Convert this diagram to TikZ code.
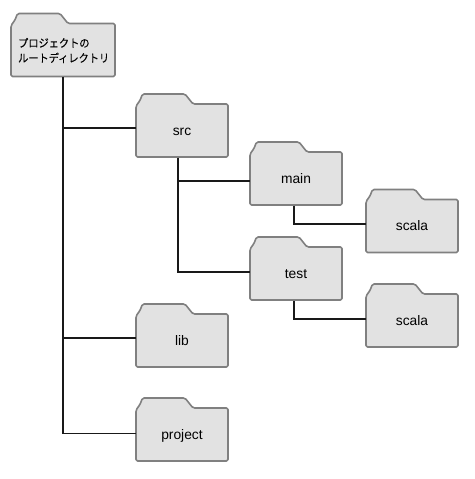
\documentclass[tikz,border=0pt]{standalone}
\usepackage{fontspec}
\setmainfont{Liberation Sans}
\newfontfamily\cjk[FakeStretch=0.91,FakeBold=0.05]{Noto Sans CJK JP}
\definecolor{fol}{RGB}{226,226,226}
\definecolor{edge}{RGB}{128,128,128}
\tikzset{
  x=1pt,y=-1pt,
  body/.style={inner sep=0pt,minimum width=#1,minimum height=53pt,font=\fontsize{13.8pt}{15pt}\selectfont,text height=9pt,text depth=0pt,align=center},
  outline/.style={draw=edge,fill=fol,line width=1.6pt,line join=round,rounded corners=1.6pt},
  link/.style={draw=black!90,line width=1.6pt}
}
\newcommand{\folder}[5]{% name, left, top of body, width, text
  \path[outline] (#2,#3+53) -- (#2,#3+2) -- (#2+4,#3-3.5) -- (#2+6.5,#3-10) -- (#2+49,#3-10) -- (#2+57,#3) -- (#2+#4,#3) -- (#2+#4,#3+53) -- cycle;
  \node[body=#4 pt] (#1) at (#2+#4/2,#3+26.5) {#5};
}
\begin{document}
\begin{tikzpicture}
\useasboundingbox (0,0) rectangle (474,479);
\folder{root}{11}{23.5}{104}{}
\folder{src}{136}{104}{92}{src}
\folder{main}{250}{152}{92}{main}
\folder{scalaa}{366}{199.5}{92}{scala}
\folder{test}{250}{247}{92}{test}
\folder{scalab}{366}{294}{92}{scala}
\folder{lib}{136}{314}{92}{lib}
\folder{project}{136}{408}{92}{project}
\node[font=\cjk\fontsize{11.2pt}{15pt}\selectfont,align=left,anchor=west,inner sep=0pt] (roottext) at (18,50.5) {プロジェクトの\\ルートディレクトリ};
\coordinate (trunk) at (63,128);
\coordinate (srcstem) at (178,181);
\coordinate (mainstem) at (294,224);
\coordinate (teststem) at (294,319);
\coordinate (teststema) at (178,272);
\draw[link] (root.south) -- (63,433.5) -- (136,433.5);
\draw[link] (trunk) -- (src.west |- trunk);
\draw[link] (63,338) -- (136,338);
\draw[link] (178,157.5) -- (srcstem) -- (main.west |- srcstem);
\draw[link] (srcstem) -- (teststema) -- (test.west |- teststema);
\draw[link] (294,205.5) -- (mainstem) -- (scalaa.west |- mainstem);
\draw[link] (294,301) -- (teststem) -- (scalab.west |- teststem);
\end{tikzpicture}
\end{document}
